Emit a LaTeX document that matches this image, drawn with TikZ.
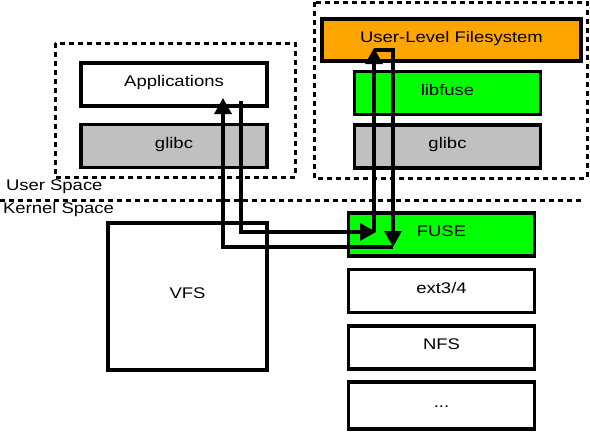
\documentclass[tikz,border=0pt]{standalone}
\usepackage{fontspec}
\setmainfont[FakeStretch=1.2]{Liberation Sans}
\usepackage{tikz}
\usetikzlibrary{arrows.meta,positioning}

\definecolor{ulfsorange}{RGB}{255,165,0}
\definecolor{fusegreen}{RGB}{0,255,0}
\definecolor{libgray}{RGB}{192,192,192}

\begin{document}
\begin{tikzpicture}
	[x=1pt,y=-1pt,line width=2pt,
		node distance=10pt,font=\fontsize{15.4}{18}\selectfont,
		flow/.style={-{Triangle[length=16pt,width=17pt]},line width=3.2pt},
		layer/.style={rectangle,draw,line width=3.6pt,minimum width=186pt,minimum height=43pt,inner sep=0pt,text height=11pt,text depth=7pt},
		space/.style={draw,line width=3pt,dash pattern=on 5pt off 4pt}]

	\useasboundingbox (0,0) rectangle (590,432);

	\draw[space] (55,43) rectangle (295,177);
	\draw[space] (314,2) rectangle (587,178);
	\draw[space] (0,200) -- (582,200);
	\node[anchor=base west,inner sep=0pt] (us) at (5,190) {User Space};
	\node[anchor=base west,inner sep=0pt] (ks) at (2,213) {Kernel Space};

	\node[layer] (apps) at (174,84.5) {Applications};
	\node[layer,fill=libgray] (glibcL) [below=15pt of apps] {glibc};

	\node[layer,fill=ulfsorange,minimum width=259pt,minimum height=42pt] (ulfs) at (451.5,40) {User-Level Filesystem};
	\node[layer,fill=fusegreen] (libfuse) at (447.5,93) {libfuse};
	\node[layer,fill=libgray] (glibcR) [below=7pt of libfuse] {glibc};

	\node[layer,minimum width=159pt,minimum height=147pt] (vfs) at (187.5,296.5) {VFS};
	\node[layer,fill=fusegreen] (fuse) at (441.5,234.5) {FUSE};
	\node[layer] (ext) [below=of fuse] {ext3/4};
	\node[layer] (nfs) [below=of ext] {NFS};
	\node[layer,minimum height=47pt] (more) [below=9pt of nfs] {...};

	\coordinate (appOut) at (241,101);
	\coordinate (appIn) at (223,98);
	\coordinate (fuseIn) at (376,232);
	\coordinate (fuseOut) at (374,232);
	\coordinate (fuseBack) at (393,247);
	\coordinate (ulfsIn) at (374,48);
	\coordinate (ulfsOut) at (393,50);

	\draw[flow] (appOut) |- (fuseIn);
	\draw[flow] (fuseOut) -- (ulfsIn);
	\draw[flow] (ulfsIn |- ulfsOut) -- (ulfsOut) -- (fuseBack);
	\draw[flow] (fuseBack) -| (appIn);
\end{tikzpicture}
\end{document}
